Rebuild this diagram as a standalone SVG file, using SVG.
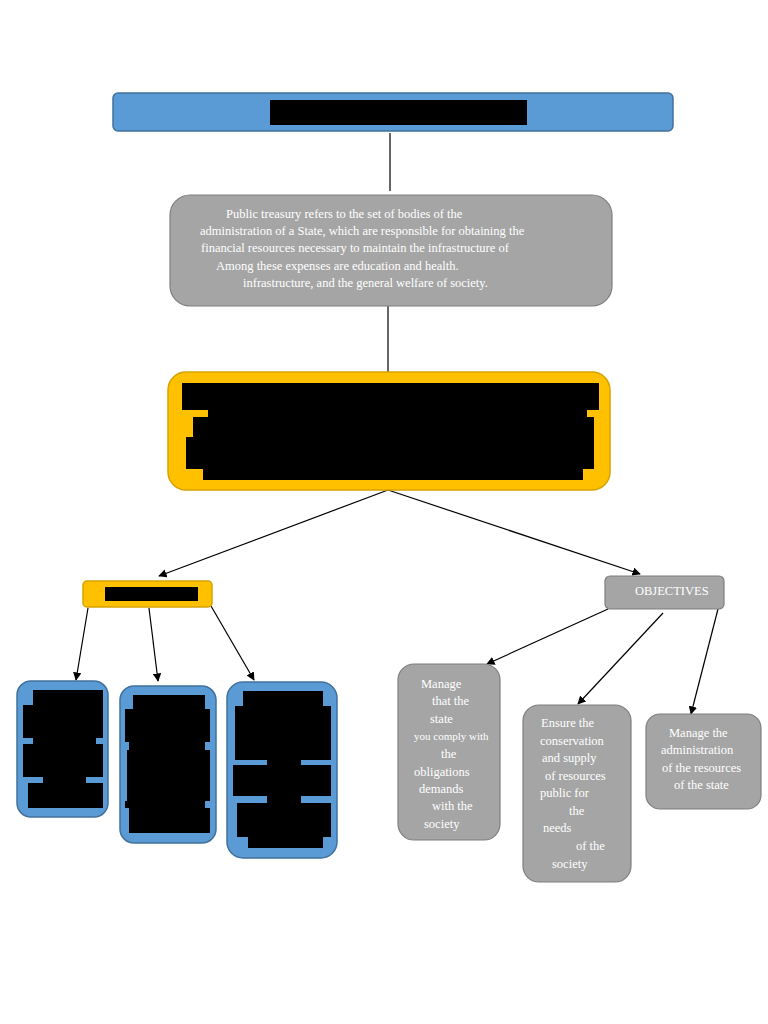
<svg xmlns="http://www.w3.org/2000/svg" width="768" height="1024" viewBox="0 0 768 1024">
<defs>
<marker id="ah" viewBox="0 0 10 10" refX="9" refY="5" markerWidth="7" markerHeight="7" orient="auto"><path d="M0,0 L10,5 L0,10 z" fill="#000"/></marker>
<style>
.blue{fill:#5b9bd5;stroke:#41719c;stroke-width:1.5}
.yel{fill:#ffc000;stroke:#d6a200;stroke-width:1.5}
.gray{fill:#a5a5a5;stroke:#7f7f7f;stroke-width:1.2}
.red{fill:#000}
text{font-family:"Liberation Serif",serif;font-size:12.5px;fill:#fff}
.c line{stroke:#000;stroke-width:1.2}
</style>
</defs>
<rect width="768" height="1024" fill="#fff"/>
<g class="c">
<line x1="390" y1="133" x2="390" y2="191"/>
<line x1="388" y1="306" x2="388" y2="372"/>
<line x1="388" y1="490" x2="159" y2="576" marker-end="url(#ah)"/>
<line x1="388" y1="490" x2="640" y2="574" marker-end="url(#ah)"/>
<line x1="88" y1="608" x2="76" y2="680" marker-end="url(#ah)"/>
<line x1="149" y1="608" x2="158" y2="681" marker-end="url(#ah)"/>
<line x1="211" y1="606" x2="254" y2="680" marker-end="url(#ah)"/>
<line x1="608" y1="609" x2="487" y2="664" marker-end="url(#ah)"/>
<line x1="663" y1="613" x2="578" y2="704" marker-end="url(#ah)"/>
<line x1="718" y1="609" x2="691" y2="714" marker-end="url(#ah)"/>
</g>
<g id="title"><rect class="blue" x="113" y="93" width="560" height="38" rx="5"/><rect class="red" x="270" y="100" width="257" height="25"/></g>
<g id="definition"><rect class="gray" x="170" y="195" width="442" height="111" rx="20"/>
<text x="226" y="218">Public treasury refers to the set of bodies of the</text>
<text x="200" y="235">administration of a State, which are responsible for obtaining the</text>
<text x="201" y="252">financial resources necessary to maintain the infrastructure of</text>
<text x="216" y="270">Among these expenses are education and health.</text>
<text x="243" y="287">infrastructure, and the general welfare of society.</text>
</g>
<g id="main"><rect class="yel" x="168" y="372" width="442" height="118" rx="18"/>
<path class="red" d="M182,383H599V410H587V417H594V437V469H583V480H203V469H186V437H193V417H208V410H182Z"/></g>
<g id="left"><rect class="yel" x="83" y="581" width="129" height="26" rx="4"/><rect class="red" x="105" y="587" width="93" height="14"/></g>
<g id="box1"><rect class="blue" x="17" y="681" width="91" height="136" rx="14"/>
<path class="red" d="M33,690H103V738H96V744H103V777H86V783H103V808H28V783H43V777H23V744H33V738H23V705H33Z"/></g>
<g id="box2"><rect class="blue" x="120" y="686" width="96" height="157" rx="14"/>
<path class="red" d="M133,695H205V709H210V742H205V750H210V801H205V808H210V833H129V808H125V801H127V750H129V742H125V709H133Z"/></g>
<g id="box3"><rect class="blue" x="227" y="682" width="110" height="176" rx="16"/>
<path class="red" d="M243,691H323V706H331V760H301V765H331V796H301V803H331V837H323V848H248V837H237V803H267V796H233V765H267V760H235V706H243Z"/></g>
<g id="objectives"><rect class="gray" x="605" y="576" width="119" height="33" rx="5"/><text x="635" y="595">OBJECTIVES</text></g>
<g id="obj1"><rect class="gray" x="398" y="664" width="102" height="176" rx="16"/>
<text x="421" y="688">Manage</text><text x="432" y="705">that the</text><text x="430" y="723">state</text>
<text x="414" y="740" style="font-size:11px">you comply with</text><text x="441" y="758">the</text>
<text x="414" y="776">obligations</text><text x="419" y="793">demands</text><text x="432" y="810">with the</text><text x="424" y="828">society</text></g>
<g id="obj2"><rect class="gray" x="523" y="705" width="108" height="177" rx="16"/>
<text x="541" y="727">Ensure the</text><text x="540" y="745">conservation</text><text x="542" y="762">and supply</text>
<text x="545" y="780">of resources</text><text x="540" y="797">public for</text><text x="569" y="815">the</text>
<text x="543" y="832">needs</text><text x="576" y="850">of the</text><text x="552" y="868">society</text></g>
<g id="obj3"><rect class="gray" x="646" y="714" width="115" height="95" rx="14"/>
<text x="669" y="737">Manage the</text><text x="661" y="754">administration</text>
<text x="662" y="772">of the resources</text><text x="674" y="789">of the state</text></g>
</svg>
